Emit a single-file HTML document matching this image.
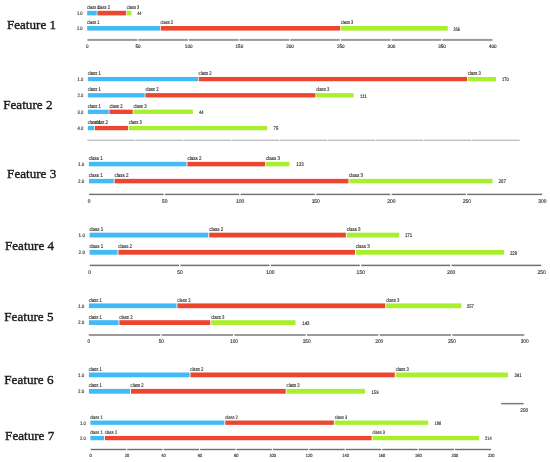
<!DOCTYPE html>
<html><head><meta charset="utf-8"><title>Features</title>
<style>
html,body{margin:0;padding:0;background:#fff;}
body{width:550px;height:462px;overflow:hidden;}
svg{display:block;}
.ft{font-family:"Liberation Serif",serif;font-size:13.4px;fill:#1a1a1a;stroke:#1a1a1a;stroke-width:0.38px;}
.sm{font-family:"Liberation Sans",sans-serif;fill:#303030;stroke:#303030;stroke-width:0.14px;text-rendering:geometricPrecision;}
</style></head>
<body>
<svg width="550" height="462" viewBox="0 0 550 462">
<rect x="0" y="0" width="550" height="462" fill="#fff"/>
<text class="ft" x="6.9" y="29.1" textLength="49.2" lengthAdjust="spacingAndGlyphs">Feature 1</text>
<text class="sm" x="82.6" y="14.9" font-size="5" text-anchor="end" textLength="5.6" lengthAdjust="spacingAndGlyphs">1.0</text>
<rect x="87.2" y="10.8" width="9.55" height="4.6" fill="#41baf5"/>
<rect x="97.45" y="10.8" width="28.7" height="4.6" fill="#ec4630"/>
<rect x="126.85" y="10.8" width="4.55" height="4.6" fill="#a8f02e"/>
<text class="sm" x="87" y="9.15" font-size="5.2" textLength="12.5" lengthAdjust="spacingAndGlyphs">class 1</text>
<text class="sm" x="97.4" y="9.15" font-size="5.2" textLength="12.5" lengthAdjust="spacingAndGlyphs">class 2</text>
<text class="sm" x="126.8" y="9.15" font-size="5.2" textLength="12.5" lengthAdjust="spacingAndGlyphs">class 3</text>
<text class="sm" x="137.2" y="15.4" font-size="4.9" textLength="4.2" lengthAdjust="spacingAndGlyphs">44</text>
<text class="sm" x="82.6" y="30.1" font-size="5" text-anchor="end" textLength="5.6" lengthAdjust="spacingAndGlyphs">2.0</text>
<rect x="87.2" y="26" width="72.85" height="4.6" fill="#41baf5"/>
<rect x="160.75" y="26" width="179.4" height="4.6" fill="#ec4630"/>
<rect x="340.85" y="26" width="106.95" height="4.6" fill="#a8f02e"/>
<text class="sm" x="87" y="24.35" font-size="5.2" textLength="12.5" lengthAdjust="spacingAndGlyphs">class 1</text>
<text class="sm" x="160.6" y="24.35" font-size="5.2" textLength="12.5" lengthAdjust="spacingAndGlyphs">class 2</text>
<text class="sm" x="340.8" y="24.35" font-size="5.2" textLength="12.5" lengthAdjust="spacingAndGlyphs">class 3</text>
<text class="sm" x="453.6" y="30.6" font-size="4.9" textLength="6.3" lengthAdjust="spacingAndGlyphs">356</text>
<rect x="87.4" y="38.9" width="49.78" height="2" fill="#9a9a9a"/>
<rect x="138.19" y="38.9" width="49.69" height="2" fill="#9a9a9a"/>
<rect x="188.87" y="38.9" width="49.69" height="2" fill="#9a9a9a"/>
<rect x="239.56" y="38.9" width="49.69" height="2" fill="#9a9a9a"/>
<rect x="290.24" y="38.9" width="49.69" height="2" fill="#9a9a9a"/>
<rect x="340.93" y="38.9" width="49.69" height="2" fill="#9a9a9a"/>
<rect x="391.61" y="38.9" width="49.69" height="2" fill="#9a9a9a"/>
<rect x="442.3" y="38.9" width="50.19" height="2" fill="#9a9a9a"/>
<text class="sm" x="87.3" y="47.6" font-size="5" text-anchor="middle" textLength="2.55" lengthAdjust="spacingAndGlyphs">0</text>
<text class="sm" x="137.99" y="47.6" font-size="5" text-anchor="middle" textLength="5.1" lengthAdjust="spacingAndGlyphs">50</text>
<text class="sm" x="188.67" y="47.6" font-size="5" text-anchor="middle" textLength="7.65" lengthAdjust="spacingAndGlyphs">100</text>
<text class="sm" x="239.36" y="47.6" font-size="5" text-anchor="middle" textLength="7.65" lengthAdjust="spacingAndGlyphs">150</text>
<text class="sm" x="290.04" y="47.6" font-size="5" text-anchor="middle" textLength="7.65" lengthAdjust="spacingAndGlyphs">200</text>
<text class="sm" x="340.73" y="47.6" font-size="5" text-anchor="middle" textLength="7.65" lengthAdjust="spacingAndGlyphs">250</text>
<text class="sm" x="391.41" y="47.6" font-size="5" text-anchor="middle" textLength="7.65" lengthAdjust="spacingAndGlyphs">300</text>
<text class="sm" x="442.1" y="47.6" font-size="5" text-anchor="middle" textLength="7.65" lengthAdjust="spacingAndGlyphs">350</text>
<text class="sm" x="492.78" y="47.6" font-size="5" text-anchor="middle" textLength="7.65" lengthAdjust="spacingAndGlyphs">400</text>
<text class="ft" x="3.25" y="109.25" textLength="49.2" lengthAdjust="spacingAndGlyphs">Feature 2</text>
<text class="sm" x="83.3" y="80.9" font-size="5" text-anchor="end" textLength="5.8" lengthAdjust="spacingAndGlyphs">1.0</text>
<rect x="87.9" y="76.95" width="110.15" height="4.3" fill="#41baf5"/>
<rect x="198.75" y="76.95" width="268.3" height="4.3" fill="#ec4630"/>
<rect x="467.75" y="76.95" width="28.25" height="4.3" fill="#a8f02e"/>
<text class="sm" x="87.7" y="75.15" font-size="5.3" textLength="13.1" lengthAdjust="spacingAndGlyphs">class 1</text>
<text class="sm" x="198.6" y="75.15" font-size="5.3" textLength="13.1" lengthAdjust="spacingAndGlyphs">class 2</text>
<text class="sm" x="467.8" y="75.15" font-size="5.3" textLength="13.1" lengthAdjust="spacingAndGlyphs">class 3</text>
<text class="sm" x="502" y="81.4" font-size="5" textLength="6.9" lengthAdjust="spacingAndGlyphs">170</text>
<text class="sm" x="83.3" y="97.1" font-size="5" text-anchor="end" textLength="5.8" lengthAdjust="spacingAndGlyphs">2.0</text>
<rect x="87.9" y="93.15" width="56.8" height="4.3" fill="#41baf5"/>
<rect x="145.4" y="93.15" width="170.05" height="4.3" fill="#ec4630"/>
<rect x="316.15" y="93.15" width="37.45" height="4.3" fill="#a8f02e"/>
<text class="sm" x="87.7" y="91.35" font-size="5.3" textLength="13.1" lengthAdjust="spacingAndGlyphs">class 1</text>
<text class="sm" x="145.4" y="91.35" font-size="5.3" textLength="13.1" lengthAdjust="spacingAndGlyphs">class 2</text>
<text class="sm" x="316.2" y="91.35" font-size="5.3" textLength="13.1" lengthAdjust="spacingAndGlyphs">class 3</text>
<text class="sm" x="360" y="97.6" font-size="5" textLength="6.9" lengthAdjust="spacingAndGlyphs">111</text>
<text class="sm" x="83.3" y="113.6" font-size="5" text-anchor="end" textLength="5.8" lengthAdjust="spacingAndGlyphs">3.0</text>
<rect x="87.9" y="109.65" width="20.8" height="4.3" fill="#41baf5"/>
<rect x="109.4" y="109.65" width="23.3" height="4.3" fill="#ec4630"/>
<rect x="133.4" y="109.65" width="59.5" height="4.3" fill="#a8f02e"/>
<text class="sm" x="87.7" y="107.85" font-size="5.3" textLength="13.1" lengthAdjust="spacingAndGlyphs">class 1</text>
<text class="sm" x="109.4" y="107.85" font-size="5.3" textLength="13.1" lengthAdjust="spacingAndGlyphs">class 2</text>
<text class="sm" x="133.4" y="107.85" font-size="5.3" textLength="13.1" lengthAdjust="spacingAndGlyphs">class 3</text>
<text class="sm" x="199" y="114.1" font-size="5" textLength="4.6" lengthAdjust="spacingAndGlyphs">44</text>
<text class="sm" x="83.3" y="129.9" font-size="5" text-anchor="end" textLength="5.8" lengthAdjust="spacingAndGlyphs">4.0</text>
<rect x="87.9" y="125.95" width="6.25" height="4.3" fill="#41baf5"/>
<rect x="94.85" y="125.95" width="33.2" height="4.3" fill="#ec4630"/>
<rect x="128.75" y="125.95" width="138.45" height="4.3" fill="#a8f02e"/>
<text class="sm" x="87.7" y="124.15" font-size="5.3" textLength="13.1" lengthAdjust="spacingAndGlyphs">class 1</text>
<text class="sm" x="94.8" y="124.15" font-size="5.3" textLength="13.1" lengthAdjust="spacingAndGlyphs">class 2</text>
<text class="sm" x="128.7" y="124.15" font-size="5.3" textLength="13.1" lengthAdjust="spacingAndGlyphs">class 3</text>
<text class="sm" x="273.6" y="130.4" font-size="5" textLength="4.6" lengthAdjust="spacingAndGlyphs">75</text>
<rect x="87.4" y="139.65" width="47.38" height="1.3" fill="#bcbcbc"/>
<rect x="135.38" y="139.65" width="47.48" height="1.3" fill="#bcbcbc"/>
<rect x="183.46" y="139.65" width="47.48" height="1.3" fill="#bcbcbc"/>
<rect x="231.54" y="139.65" width="47.48" height="1.3" fill="#bcbcbc"/>
<rect x="279.62" y="139.65" width="47.48" height="1.3" fill="#bcbcbc"/>
<rect x="327.7" y="139.65" width="47.48" height="1.3" fill="#bcbcbc"/>
<rect x="375.78" y="139.65" width="47.48" height="1.3" fill="#bcbcbc"/>
<rect x="423.86" y="139.65" width="47.48" height="1.3" fill="#bcbcbc"/>
<rect x="471.94" y="139.65" width="47.78" height="1.3" fill="#bcbcbc"/>
<text class="ft" x="7.1" y="178.2" textLength="49.2" lengthAdjust="spacingAndGlyphs">Feature 3</text>
<text class="sm" x="84.3" y="165.9" font-size="5" text-anchor="end" textLength="6.2" lengthAdjust="spacingAndGlyphs">1.0</text>
<rect x="88.9" y="161.85" width="97.6" height="4.5" fill="#41baf5"/>
<rect x="187.4" y="161.85" width="77.8" height="4.5" fill="#ec4630"/>
<rect x="266.1" y="161.85" width="23.3" height="4.5" fill="#a8f02e"/>
<text class="sm" x="88.7" y="160.15" font-size="5.5" textLength="14" lengthAdjust="spacingAndGlyphs">class 1</text>
<text class="sm" x="187.4" y="160.15" font-size="5.5" textLength="14" lengthAdjust="spacingAndGlyphs">class 2</text>
<text class="sm" x="266" y="160.15" font-size="5.5" textLength="14" lengthAdjust="spacingAndGlyphs">class 3</text>
<text class="sm" x="296.3" y="166.4" font-size="5.3" textLength="7.35" lengthAdjust="spacingAndGlyphs">133</text>
<text class="sm" x="84.3" y="182.9" font-size="5" text-anchor="end" textLength="6.2" lengthAdjust="spacingAndGlyphs">2.0</text>
<rect x="88.9" y="178.85" width="24.8" height="4.5" fill="#41baf5"/>
<rect x="114.6" y="178.85" width="233.85" height="4.5" fill="#ec4630"/>
<rect x="349.35" y="178.85" width="143.15" height="4.5" fill="#a8f02e"/>
<text class="sm" x="88.7" y="177.15" font-size="5.5" textLength="14" lengthAdjust="spacingAndGlyphs">class 1</text>
<text class="sm" x="114.5" y="177.15" font-size="5.5" textLength="14" lengthAdjust="spacingAndGlyphs">class 2</text>
<text class="sm" x="349.1" y="177.15" font-size="5.5" textLength="14" lengthAdjust="spacingAndGlyphs">class 3</text>
<text class="sm" x="498.6" y="183.4" font-size="5.3" textLength="7.35" lengthAdjust="spacingAndGlyphs">267</text>
<rect x="89.2" y="193.7" width="74.45" height="1.4" fill="#6e6e6e"/>
<rect x="165.05" y="193.7" width="74.15" height="1.4" fill="#6e6e6e"/>
<rect x="240.6" y="193.7" width="74.15" height="1.4" fill="#6e6e6e"/>
<rect x="316.15" y="193.7" width="74.15" height="1.4" fill="#6e6e6e"/>
<rect x="391.7" y="193.7" width="74.15" height="1.4" fill="#6e6e6e"/>
<rect x="467.25" y="193.7" width="74.85" height="1.4" fill="#6e6e6e"/>
<text class="sm" x="89.1" y="203.2" font-size="5.3" text-anchor="middle" textLength="2.75" lengthAdjust="spacingAndGlyphs">0</text>
<text class="sm" x="164.65" y="203.2" font-size="5.3" text-anchor="middle" textLength="5.5" lengthAdjust="spacingAndGlyphs">50</text>
<text class="sm" x="240.2" y="203.2" font-size="5.3" text-anchor="middle" textLength="8.25" lengthAdjust="spacingAndGlyphs">100</text>
<text class="sm" x="315.75" y="203.2" font-size="5.3" text-anchor="middle" textLength="8.25" lengthAdjust="spacingAndGlyphs">150</text>
<text class="sm" x="391.3" y="203.2" font-size="5.3" text-anchor="middle" textLength="8.25" lengthAdjust="spacingAndGlyphs">200</text>
<text class="sm" x="466.85" y="203.2" font-size="5.3" text-anchor="middle" textLength="8.25" lengthAdjust="spacingAndGlyphs">250</text>
<text class="sm" x="542.4" y="203.2" font-size="5.3" text-anchor="middle" textLength="8.25" lengthAdjust="spacingAndGlyphs">300</text>
<text class="ft" x="4.95" y="249.6" textLength="49.2" lengthAdjust="spacingAndGlyphs">Feature 4</text>
<text class="sm" x="85" y="236.9" font-size="5" text-anchor="end" textLength="6.4" lengthAdjust="spacingAndGlyphs">1.0</text>
<rect x="89.6" y="232.7" width="118.75" height="4.8" fill="#41baf5"/>
<rect x="209.25" y="232.7" width="136.6" height="4.8" fill="#ec4630"/>
<rect x="346.75" y="232.7" width="52.45" height="4.8" fill="#a8f02e"/>
<text class="sm" x="89.4" y="231.15" font-size="5.5" textLength="13.9" lengthAdjust="spacingAndGlyphs">class 1</text>
<text class="sm" x="209.3" y="231.15" font-size="5.5" textLength="13.9" lengthAdjust="spacingAndGlyphs">class 2</text>
<text class="sm" x="346.7" y="231.15" font-size="5.5" textLength="13.9" lengthAdjust="spacingAndGlyphs">class 3</text>
<text class="sm" x="404.9" y="237.4" font-size="5.3" textLength="7.35" lengthAdjust="spacingAndGlyphs">171</text>
<text class="sm" x="85" y="254.1" font-size="5" text-anchor="end" textLength="6.4" lengthAdjust="spacingAndGlyphs">2.0</text>
<rect x="89.6" y="249.9" width="27.95" height="4.8" fill="#41baf5"/>
<rect x="118.45" y="249.9" width="236.55" height="4.8" fill="#ec4630"/>
<rect x="355.9" y="249.9" width="148.3" height="4.8" fill="#a8f02e"/>
<text class="sm" x="89.4" y="248.35" font-size="5.5" textLength="13.9" lengthAdjust="spacingAndGlyphs">class 1</text>
<text class="sm" x="118.2" y="248.35" font-size="5.5" textLength="13.9" lengthAdjust="spacingAndGlyphs">class 2</text>
<text class="sm" x="355.8" y="248.35" font-size="5.5" textLength="13.9" lengthAdjust="spacingAndGlyphs">class 3</text>
<text class="sm" x="509.9" y="254.6" font-size="5.3" textLength="7.35" lengthAdjust="spacingAndGlyphs">229</text>
<rect x="89.7" y="264.65" width="89.3" height="1.5" fill="#707070"/>
<rect x="180.4" y="264.65" width="89" height="1.5" fill="#707070"/>
<rect x="270.8" y="264.65" width="89" height="1.5" fill="#707070"/>
<rect x="361.2" y="264.65" width="89" height="1.5" fill="#707070"/>
<rect x="451.6" y="264.65" width="89.7" height="1.5" fill="#707070"/>
<text class="sm" x="89.6" y="274" font-size="5.4" text-anchor="middle" textLength="2.8" lengthAdjust="spacingAndGlyphs">0</text>
<text class="sm" x="180" y="274" font-size="5.4" text-anchor="middle" textLength="5.6" lengthAdjust="spacingAndGlyphs">50</text>
<text class="sm" x="270.4" y="274" font-size="5.4" text-anchor="middle" textLength="8.4" lengthAdjust="spacingAndGlyphs">100</text>
<text class="sm" x="360.8" y="274" font-size="5.4" text-anchor="middle" textLength="8.4" lengthAdjust="spacingAndGlyphs">150</text>
<text class="sm" x="451.2" y="274" font-size="5.4" text-anchor="middle" textLength="8.4" lengthAdjust="spacingAndGlyphs">200</text>
<text class="sm" x="541.6" y="274" font-size="5.4" text-anchor="middle" textLength="8.4" lengthAdjust="spacingAndGlyphs">250</text>
<text class="ft" x="4.3" y="321.35" textLength="49.2" lengthAdjust="spacingAndGlyphs">Feature 5</text>
<text class="sm" x="84.3" y="307.6" font-size="5" text-anchor="end" textLength="6.3" lengthAdjust="spacingAndGlyphs">1.0</text>
<rect x="88.9" y="303.4" width="87.65" height="4.8" fill="#41baf5"/>
<rect x="177.45" y="303.4" width="207.8" height="4.8" fill="#ec4630"/>
<rect x="386.15" y="303.4" width="75.25" height="4.8" fill="#a8f02e"/>
<text class="sm" x="88.7" y="301.85" font-size="5.3" textLength="13.2" lengthAdjust="spacingAndGlyphs">class 1</text>
<text class="sm" x="177.3" y="301.85" font-size="5.3" textLength="13.2" lengthAdjust="spacingAndGlyphs">class 2</text>
<text class="sm" x="386.2" y="301.85" font-size="5.3" textLength="13.2" lengthAdjust="spacingAndGlyphs">class 3</text>
<text class="sm" x="466.8" y="308.1" font-size="5.2" textLength="7.11" lengthAdjust="spacingAndGlyphs">257</text>
<text class="sm" x="84.3" y="324.4" font-size="5" text-anchor="end" textLength="6.3" lengthAdjust="spacingAndGlyphs">2.0</text>
<rect x="88.9" y="320.2" width="29.6" height="4.8" fill="#41baf5"/>
<rect x="119.4" y="320.2" width="90.85" height="4.8" fill="#ec4630"/>
<rect x="211.15" y="320.2" width="84.35" height="4.8" fill="#a8f02e"/>
<text class="sm" x="88.7" y="318.65" font-size="5.3" textLength="13.2" lengthAdjust="spacingAndGlyphs">class 1</text>
<text class="sm" x="119.3" y="318.65" font-size="5.3" textLength="13.2" lengthAdjust="spacingAndGlyphs">class 2</text>
<text class="sm" x="211.2" y="318.65" font-size="5.3" textLength="13.2" lengthAdjust="spacingAndGlyphs">class 3</text>
<text class="sm" x="302.3" y="324.9" font-size="5.2" textLength="7.11" lengthAdjust="spacingAndGlyphs">143</text>
<rect x="88.8" y="334" width="71.55" height="2" fill="#9a9a9a"/>
<rect x="161.75" y="334" width="71.25" height="2" fill="#9a9a9a"/>
<rect x="234.4" y="334" width="71.25" height="2" fill="#9a9a9a"/>
<rect x="307.05" y="334" width="71.25" height="2" fill="#9a9a9a"/>
<rect x="379.7" y="334" width="71.25" height="2" fill="#9a9a9a"/>
<rect x="452.35" y="334" width="71.95" height="2" fill="#9a9a9a"/>
<text class="sm" x="88.7" y="343" font-size="5.3" text-anchor="middle" textLength="2.65" lengthAdjust="spacingAndGlyphs">0</text>
<text class="sm" x="161.35" y="343" font-size="5.3" text-anchor="middle" textLength="5.3" lengthAdjust="spacingAndGlyphs">50</text>
<text class="sm" x="234" y="343" font-size="5.3" text-anchor="middle" textLength="7.95" lengthAdjust="spacingAndGlyphs">100</text>
<text class="sm" x="306.65" y="343" font-size="5.3" text-anchor="middle" textLength="7.95" lengthAdjust="spacingAndGlyphs">150</text>
<text class="sm" x="379.3" y="343" font-size="5.3" text-anchor="middle" textLength="7.95" lengthAdjust="spacingAndGlyphs">200</text>
<text class="sm" x="451.95" y="343" font-size="5.3" text-anchor="middle" textLength="7.95" lengthAdjust="spacingAndGlyphs">250</text>
<text class="sm" x="524.6" y="343" font-size="5.3" text-anchor="middle" textLength="7.95" lengthAdjust="spacingAndGlyphs">300</text>
<text class="ft" x="4.3" y="384.3" textLength="49.2" lengthAdjust="spacingAndGlyphs">Feature 6</text>
<text class="sm" x="84.3" y="376.7" font-size="5" text-anchor="end" textLength="6.2" lengthAdjust="spacingAndGlyphs">1.0</text>
<rect x="88.9" y="372.5" width="100.65" height="4.8" fill="#41baf5"/>
<rect x="190.45" y="372.5" width="204.3" height="4.8" fill="#ec4630"/>
<rect x="395.65" y="372.5" width="112.35" height="4.8" fill="#a8f02e"/>
<text class="sm" x="88.7" y="370.95" font-size="5.3" textLength="13.1" lengthAdjust="spacingAndGlyphs">class 1</text>
<text class="sm" x="190.3" y="370.95" font-size="5.3" textLength="13.1" lengthAdjust="spacingAndGlyphs">class 2</text>
<text class="sm" x="395.7" y="370.95" font-size="5.3" textLength="13.1" lengthAdjust="spacingAndGlyphs">class 3</text>
<text class="sm" x="514.4" y="377.2" font-size="5.2" textLength="7.11" lengthAdjust="spacingAndGlyphs">241</text>
<text class="sm" x="84.3" y="393.1" font-size="5" text-anchor="end" textLength="6.2" lengthAdjust="spacingAndGlyphs">2.0</text>
<rect x="88.9" y="388.9" width="41.1" height="4.8" fill="#41baf5"/>
<rect x="130.9" y="388.9" width="154.8" height="4.8" fill="#ec4630"/>
<rect x="286.6" y="388.9" width="78.4" height="4.8" fill="#a8f02e"/>
<text class="sm" x="88.7" y="387.35" font-size="5.3" textLength="13.1" lengthAdjust="spacingAndGlyphs">class 1</text>
<text class="sm" x="130.6" y="387.35" font-size="5.3" textLength="13.1" lengthAdjust="spacingAndGlyphs">class 2</text>
<text class="sm" x="286.6" y="387.35" font-size="5.3" textLength="13.1" lengthAdjust="spacingAndGlyphs">class 3</text>
<text class="sm" x="371.4" y="393.6" font-size="5.2" textLength="7.11" lengthAdjust="spacingAndGlyphs">159</text>
<text class="ft" x="5.1" y="439.95" textLength="49.2" lengthAdjust="spacingAndGlyphs">Feature 7</text>
<text class="sm" x="85.8" y="424.5" font-size="5" text-anchor="end" textLength="5.8" lengthAdjust="spacingAndGlyphs">1.0</text>
<rect x="90.4" y="420.55" width="133.95" height="4.3" fill="#41baf5"/>
<rect x="225.25" y="420.55" width="108.6" height="4.3" fill="#ec4630"/>
<rect x="334.75" y="420.55" width="93.45" height="4.3" fill="#a8f02e"/>
<text class="sm" x="90.2" y="418.75" font-size="5" textLength="12.5" lengthAdjust="spacingAndGlyphs">class 1</text>
<text class="sm" x="225.3" y="418.75" font-size="5" textLength="12.5" lengthAdjust="spacingAndGlyphs">class 2</text>
<text class="sm" x="334.8" y="418.75" font-size="5" textLength="12.5" lengthAdjust="spacingAndGlyphs">class 3</text>
<text class="sm" x="434.5" y="425" font-size="4.9" textLength="6.6" lengthAdjust="spacingAndGlyphs">186</text>
<text class="sm" x="85.8" y="439.9" font-size="5" text-anchor="end" textLength="5.8" lengthAdjust="spacingAndGlyphs">2.0</text>
<rect x="90.4" y="435.95" width="13.55" height="4.3" fill="#41baf5"/>
<rect x="104.85" y="435.95" width="266.75" height="4.3" fill="#ec4630"/>
<rect x="372.5" y="435.95" width="106.6" height="4.3" fill="#a8f02e"/>
<text class="sm" x="90.2" y="434.15" font-size="5" textLength="12.5" lengthAdjust="spacingAndGlyphs">class 1</text>
<text class="sm" x="104.7" y="434.15" font-size="5" textLength="12.5" lengthAdjust="spacingAndGlyphs">class 2</text>
<text class="sm" x="372.5" y="434.15" font-size="5" textLength="12.5" lengthAdjust="spacingAndGlyphs">class 3</text>
<text class="sm" x="485" y="440.4" font-size="4.9" textLength="6.6" lengthAdjust="spacingAndGlyphs">214</text>
<rect x="90.7" y="448.8" width="35.47" height="1.4" fill="#6e6e6e"/>
<rect x="127.27" y="448.8" width="35.32" height="1.4" fill="#6e6e6e"/>
<rect x="163.69" y="448.8" width="35.32" height="1.4" fill="#6e6e6e"/>
<rect x="200.11" y="448.8" width="35.32" height="1.4" fill="#6e6e6e"/>
<rect x="236.53" y="448.8" width="35.32" height="1.4" fill="#6e6e6e"/>
<rect x="272.95" y="448.8" width="35.32" height="1.4" fill="#6e6e6e"/>
<rect x="309.37" y="448.8" width="35.32" height="1.4" fill="#6e6e6e"/>
<rect x="345.79" y="448.8" width="35.32" height="1.4" fill="#6e6e6e"/>
<rect x="382.21" y="448.8" width="35.32" height="1.4" fill="#6e6e6e"/>
<rect x="418.63" y="448.8" width="35.32" height="1.4" fill="#6e6e6e"/>
<rect x="455.05" y="448.8" width="35.87" height="1.4" fill="#6e6e6e"/>
<text class="sm" x="90.6" y="457" font-size="4.7" text-anchor="middle" textLength="2.2" lengthAdjust="spacingAndGlyphs">0</text>
<text class="sm" x="127.02" y="457" font-size="4.7" text-anchor="middle" textLength="4.4" lengthAdjust="spacingAndGlyphs">20</text>
<text class="sm" x="163.44" y="457" font-size="4.7" text-anchor="middle" textLength="4.4" lengthAdjust="spacingAndGlyphs">40</text>
<text class="sm" x="199.86" y="457" font-size="4.7" text-anchor="middle" textLength="4.4" lengthAdjust="spacingAndGlyphs">60</text>
<text class="sm" x="236.28" y="457" font-size="4.7" text-anchor="middle" textLength="4.4" lengthAdjust="spacingAndGlyphs">80</text>
<text class="sm" x="272.7" y="457" font-size="4.7" text-anchor="middle" textLength="6.6" lengthAdjust="spacingAndGlyphs">100</text>
<text class="sm" x="309.12" y="457" font-size="4.7" text-anchor="middle" textLength="6.6" lengthAdjust="spacingAndGlyphs">120</text>
<text class="sm" x="345.54" y="457" font-size="4.7" text-anchor="middle" textLength="6.6" lengthAdjust="spacingAndGlyphs">140</text>
<text class="sm" x="381.96" y="457" font-size="4.7" text-anchor="middle" textLength="6.6" lengthAdjust="spacingAndGlyphs">160</text>
<text class="sm" x="418.38" y="457" font-size="4.7" text-anchor="middle" textLength="6.6" lengthAdjust="spacingAndGlyphs">180</text>
<text class="sm" x="454.8" y="457" font-size="4.7" text-anchor="middle" textLength="6.6" lengthAdjust="spacingAndGlyphs">200</text>
<text class="sm" x="491.22" y="457" font-size="4.7" text-anchor="middle" textLength="6.6" lengthAdjust="spacingAndGlyphs">220</text>
<rect x="501.1" y="402.9" width="22.5" height="1.5" fill="#7a7a7a"/>
<text class="sm" x="524.2" y="412" font-size="5.2" text-anchor="middle" textLength="7.8" lengthAdjust="spacingAndGlyphs">250</text>
</svg>
</body></html>
